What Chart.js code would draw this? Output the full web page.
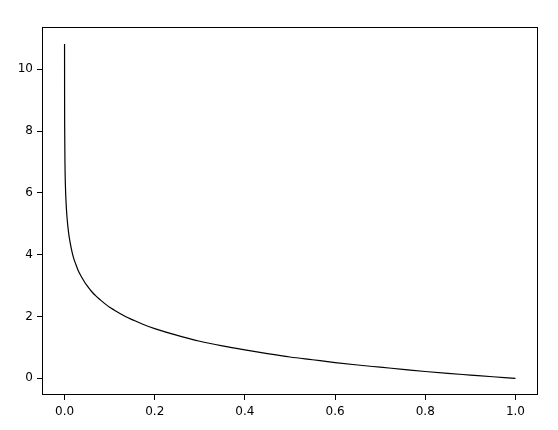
<!DOCTYPE html>
<html>
<head>
<meta charset="utf-8">
<script src="https://cdn.jsdelivr.net/npm/chart.js@4"></script>
<style>
  html, body { margin: 0; padding: 0; background: #fff; }
  #wrap { width: 558px; height: 430px; }
</style>
</head>
<body>
<div id="wrap"><canvas id="myChart" width="558" height="430"></canvas></div>
<script>
// values
const xValues = [0.00002, 0.0001, 0.0003, 0.001, 0.002, 0.003, 0.005, 0.0075, 0.01, 0.015, 0.02, 0.025, 0.03, 0.035, 0.04, 0.045,
  0.05, 0.055, 0.06, 0.065, 0.07, 0.075, 0.08, 0.09, 0.1, 0.11, 0.12, 0.135, 0.15, 0.175, 0.2, 0.25, 0.3, 0.35, 0.4, 0.45,
  0.5, 0.55, 0.6, 0.65, 0.7, 0.75, 0.8, 0.85, 0.9, 0.95, 1.0];
const yValues = [10.82, 9.2, 8.1, 6.9, 6.2, 5.8, 5.3, 4.9, 4.6, 4.2, 3.9, 3.69, 3.5, 3.35, 3.22, 3.1,
  3.0, 2.9, 2.81, 2.73, 2.66, 2.59, 2.53, 2.41, 2.3, 2.21, 2.12, 2.0, 1.9, 1.74, 1.61, 1.39, 1.2, 1.05, 0.92, 0.8,
  0.69, 0.6, 0.51, 0.43, 0.36, 0.29, 0.22, 0.16, 0.105, 0.05, 0.0];
const xTicks = [0, 0.2, 0.4, 0.6, 0.8, 1.0];
const yTicks = [0, 2, 4, 6, 8, 10];

const points = xValues.map((x, i) => ({ x: x, y: yValues[i] }));

// box around the plot area like matplotlib's spines
const frame = {
  id: "frame",
  afterDraw(chart) {
    const a = chart.chartArea;
    const ctx = chart.ctx;
    ctx.save();
    ctx.strokeStyle = "#000";
    ctx.lineWidth = 1;
    ctx.strokeRect(Math.round(a.left) + 0.5, Math.round(a.top) + 0.5,
      Math.round(a.right - a.left) - 1, Math.round(a.bottom - a.top) - 1);
    ctx.restore();
  }
};

let ctx = document.getElementById("myChart").getContext("2d");
let myChart = new Chart(ctx, {
  type: "line",
  data: {
    datasets: [
      {
        data: points,
        borderColor: "#000",
        borderWidth: 1.2,
        pointRadius: 0,
        fill: false,
        cubicInterpolationMode: "monotone"
      }
    ]
  },
  options: {
    responsive: false,
    devicePixelRatio: 1,
    animation: false,
    layout: { padding: { left: 0, top: 27, right: 20, bottom: 0 } },
    plugins: { legend: { display: false }, tooltip: { enabled: false } },
    scales: {
      x: {
        type: "linear",
        min: -0.05,
        max: 1.05,
        afterBuildTicks: (s) => { s.ticks = xTicks.map(v => ({ value: v })); },
        afterFit: (s) => { s.height = 35; },
        grid: { drawOnChartArea: false, drawTicks: true, tickLength: 5, tickColor: "#000" },
        border: { display: false },
        ticks: {
          color: "#000",
          padding: 5,
          maxRotation: 0,
          font: { family: "DejaVu Sans", size: 12 },
          callback: (v) => v.toFixed(1)
        }
      },
      y: {
        type: "linear",
        min: -0.54,
        max: 11.37,
        afterBuildTicks: (s) => { s.ticks = yTicks.map(v => ({ value: v })); },
        afterFit: (s) => { s.width = 42; },
        grid: { drawOnChartArea: false, drawTicks: true, tickLength: 5, tickColor: "#000" },
        border: { display: false },
        ticks: {
          color: "#000",
          padding: 4,
          font: { family: "DejaVu Sans", size: 12 },
          callback: (v) => String(v)
        }
      }
    }
  },
  plugins: [frame]
});
</script>
</body>
</html>
